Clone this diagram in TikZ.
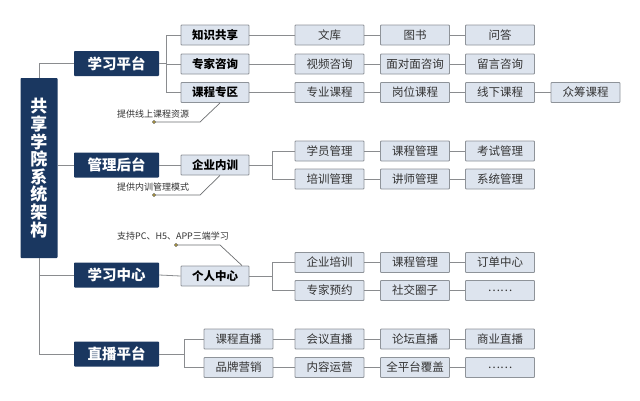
\documentclass[tikz,border=0pt]{standalone}
\usepackage{fontspec}
\setmainfont{Noto Sans CJK SC}
\usetikzlibrary{calc}
\definecolor{navy}{HTML}{1A3760}
\definecolor{boxfill}{HTML}{DDE4EE}
\definecolor{boxline}{HTML}{8E9399}
\definecolor{conn}{HTML}{8A8C8F}
\definecolor{txt}{HTML}{333333}
\definecolor{dotc}{HTML}{B8A040}
\tikzset{
  rootbox/.style={rectangle,fill=navy,text=white,font=\bfseries\fontsize{17}{17.6}\selectfont,
    minimum width=37pt,minimum height=180pt,inner sep=0pt,align=center,rounded corners=0.8pt},
  lvone/.style={rectangle,fill=navy,text=white,font=\bfseries\fontsize{14.5}{16}\selectfont,
    minimum width=85pt,minimum height=25pt,inner sep=0pt,rounded corners=0.8pt},
  lvtwo/.style={rectangle,fill=boxfill,draw=boxline,line width=0.9pt,text=black,
    font=\bfseries\fontsize{11.5}{13}\selectfont,minimum width=68pt,minimum height=20pt,inner sep=0pt,rounded corners=0.8pt},
  lvthree/.style={rectangle,fill=boxfill,draw=boxline,line width=0.9pt,text=txt,
    font=\fontsize{11.5}{13}\selectfont,minimum width=69pt,minimum height=20pt,inner sep=0pt,rounded corners=0.8pt},
  note/.style={font=\fontsize{9}{10}\selectfont,text=txt,inner sep=0pt},
  link/.style={draw=conn,line width=0.8pt},
  notelink/.style={draw=conn!80!black,line width=0.7pt},
}
\begin{document}
\begin{tikzpicture}[x=1pt,y=-1pt]
\useasboundingbox[fill=white] (0,0) rectangle (640,400);
% root
\node[rootbox] (root) at (39,168) {共\\享\\学\\院\\系\\统\\架\\构};
% level 1
\node[lvone] (p1) at (116.5,63.5) {学习平台};
\node[lvone] (p2) at (116.5,165) {管理后台};
\node[lvone] (p3) at (116.5,275) {学习中心};
\node[lvone] (p4) at (116.5,354) {直播平台};
% level 2
\node[lvtwo] (k1) at (215,35) {知识共享};
\node[lvtwo] (k2) at (215,64) {专家咨询};
\node[lvtwo] (k3) at (215,92.5) {课程专区};
\node[lvtwo] (m1) at (215,165) {企业内训};
\node[lvtwo] (s1) at (215,276) {个人中心};
% level 3 rows
\node[lvthree] (a1) at (329.5,35) {文库};
\node[lvthree] (a2) at (415,35) {图书};
\node[lvthree] (a3) at (500,35) {问答};
\node[lvthree] (b1) at (329.5,64) {视频咨询};
\node[lvthree] (b2) at (415,64) {面对面咨询};
\node[lvthree] (b3) at (500,64) {留言咨询};
\node[lvthree] (c1) at (329.5,92.5) {专业课程};
\node[lvthree] (c2) at (415,92.5) {岗位课程};
\node[lvthree] (c3) at (500,92.5) {线下课程};
\node[lvthree] (c4) at (585.5,92.5) {众筹课程};
\node[lvthree] (d1) at (329.5,151) {学员管理};
\node[lvthree] (d2) at (415,151) {课程管理};
\node[lvthree] (d3) at (500,151) {考试管理};
\node[lvthree] (e1) at (329.5,179) {培训管理};
\node[lvthree] (e2) at (415,179) {讲师管理};
\node[lvthree] (e3) at (500,179) {系统管理};
\node[lvthree] (f1) at (329.5,262.5) {企业培训};
\node[lvthree] (f2) at (415,262.5) {课程管理};
\node[lvthree] (f3) at (500,262.5) {订单中心};
\node[lvthree] (g1) at (329.5,290.5) {专家预约};
\node[lvthree] (g2) at (415,290.5) {社交圈子};
\node[lvthree] (g3) at (500,290.5) {……};
\node[lvthree] (h1) at (238.5,339) {课程直播};
\node[lvthree] (h2) at (329.5,339) {会议直播};
\node[lvthree] (h3) at (415,339) {论坛直播};
\node[lvthree] (h4) at (500,339) {商业直播};
\node[lvthree] (i1) at (238.5,367.5) {品牌营销};
\node[lvthree] (i2) at (329.5,367.5) {内容运营};
\node[lvthree] (i3) at (415,367.5) {全平台覆盖};
\node[lvthree] (i4) at (500,367.5) {……};
% root links
\draw[link] (root.north) |- (p1.west);
\draw[link] (root.east |- p2.west) -- (p2.west);
\draw[link] (root.south) |- (p3.west);
\draw[link] (root.south) |- (p4.west);
% level1 -> level2
\draw[link] (p1.east) -- ++(7,0) |- (k1.west);
\draw[link] (p1.east) -- ++(7,0) |- (k2.west);
\draw[link] (p1.east) -- ++(7,0) |- (k3.west);
\draw[link] (p2.east) -- (m1.west);
\draw[link] (p3.east) -- (s1.west);
\draw[link] (p4.east) -- ++(25,0) |- (h1.west);
\draw[link] (p4.east) -- ++(25,0) |- (i1.west);
% level2 -> level3
\draw[link] (k1) -- (a1); \draw[link] (a1) -- (a2); \draw[link] (a2) -- (a3);
\draw[link] (k2) -- (b1); \draw[link] (b1) -- (b2); \draw[link] (b2) -- (b3);
\draw[link] (k3) -- (c1); \draw[link] (c1) -- (c2); \draw[link] (c2) -- (c3); \draw[link] (c3) -- (c4);
\draw[link] (m1.east) -- ++(23,0) |- (d1.west);
\draw[link] (m1.east) -- ++(23,0) |- (e1.west);
\draw[link] (d1) -- (d2); \draw[link] (d2) -- (d3);
\draw[link] (e1) -- (e2); \draw[link] (e2) -- (e3);
\draw[link] (s1.east) -- ++(23,0) |- (f1.west);
\draw[link] (s1.east) -- ++(23,0) |- (g1.west);
\draw[link] (f1) -- (f2); \draw[link] (f2) -- (f3);
\draw[link] (g1) -- (g2); \draw[link] (g2) -- (g3);
\draw[link] (h1) -- (h2); \draw[link] (h2) -- (h3); \draw[link] (h3) -- (h4);
\draw[link] (i1) -- (i2); \draw[link] (i2) -- (i3); \draw[link] (i3) -- (i4);
% notes
\node[note] (n1) at (153,114.5) {提供线上课程资源};
\coordinate (n1d) at (154,122);
\draw[notelink] (n1d) -- (200,122) -- ([xshift=5pt]k3.south);
\fill[dotc,draw=black!70,line width=0.3pt] (n1d) circle (1.6pt);
\node[note] (n2) at (153,187.5) {提供内训管理模式};
\coordinate (n2d) at (154,195);
\draw[notelink] (n2d) -- (200,195) -- ([xshift=5pt]m1.south);
\fill[dotc,draw=black!70,line width=0.3pt] (n2d) circle (1.6pt);
\node[note] (n3) at (173,236.5) {支持PC、H5、APP三端学习};
\coordinate (n3d) at (176,245);
\draw[notelink] (n3d) -- (220,245) -- ([xshift=27pt]s1.north);
\fill[dotc,draw=black!70,line width=0.3pt] (n3d) circle (1.6pt);
\end{tikzpicture}
\end{document}
